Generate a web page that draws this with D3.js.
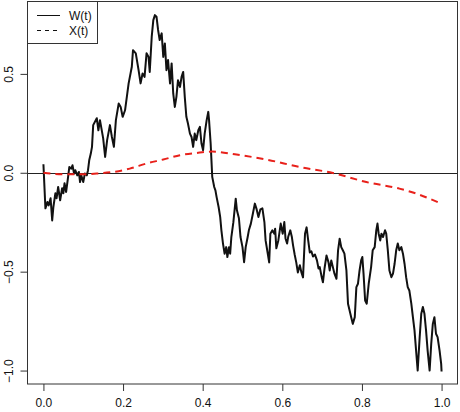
<!DOCTYPE html>
<html>
<head>
<meta charset="utf-8">
<script src="https://cdn.jsdelivr.net/npm/d3@7"></script>
<style>
  body { margin: 0; background: #fff; }
  svg { display: block; font-family: "Liberation Sans", Arial, sans-serif; }
</style>
</head>
<body>
<div id="chart"></div>
<script>
// W(t): brownian path
const tW = [
  0, 0.005, 0.010, 0.013, 0.018, 0.022, 0.025, 0.030, 0.033, 0.037, 0.042, 0.047,
  0.050, 0.053, 0.057, 0.062, 0.065, 0.070, 0.073, 0.077, 0.080, 0.085, 0.089, 0.092,
  0.095, 0.100, 0.104, 0.109, 0.112, 0.115, 0.119, 0.122, 0.125, 0.134, 0.138, 0.142,
  0.150, 0.155, 0.160, 0.167, 0.172, 0.177, 0.182, 0.189, 0.194, 0.199, 0.205, 0.214,
  0.222, 0.225, 0.232, 0.239, 0.244, 0.249, 0.254, 0.259, 0.264, 0.267, 0.272, 0.276,
  0.280, 0.284, 0.288, 0.292, 0.297, 0.301, 0.305, 0.309, 0.313, 0.318, 0.322, 0.326,
  0.330, 0.334, 0.338, 0.343, 0.347, 0.351, 0.355, 0.359, 0.363, 0.368, 0.372, 0.376,
  0.380, 0.384, 0.389, 0.393, 0.397, 0.401, 0.405, 0.410, 0.414, 0.416, 0.420, 0.422,
  0.424, 0.429, 0.432, 0.435, 0.440, 0.444, 0.447, 0.451, 0.455, 0.459, 0.462, 0.466,
  0.469, 0.472, 0.477, 0.483, 0.486, 0.491, 0.495, 0.500, 0.504, 0.508, 0.513, 0.516,
  0.521, 0.526, 0.531, 0.535, 0.540, 0.545, 0.550, 0.555, 0.558, 0.563, 0.567, 0.570,
  0.575, 0.580, 0.582, 0.585, 0.590, 0.596, 0.601, 0.605, 0.608, 0.612, 0.615, 0.620,
  0.624, 0.627, 0.631, 0.635, 0.639, 0.644, 0.648, 0.652, 0.657, 0.661, 0.665, 0.669,
  0.673, 0.677, 0.682, 0.687, 0.691, 0.694, 0.699, 0.702, 0.706, 0.711, 0.716, 0.719,
  0.723, 0.727, 0.731, 0.736, 0.740, 0.744, 0.748, 0.752, 0.756, 0.761, 0.765, 0.769,
  0.773, 0.777, 0.782, 0.786, 0.790, 0.794, 0.798, 0.801, 0.804, 0.808, 0.812, 0.817,
  0.823, 0.827, 0.832, 0.836, 0.839, 0.842, 0.846, 0.849, 0.853, 0.858, 0.861, 0.865,
  0.869, 0.874, 0.878, 0.882, 0.886, 0.890, 0.894, 0.899, 0.903, 0.907, 0.911, 0.915,
  0.919, 0.924, 0.928, 0.932, 0.936, 0.940, 0.945, 0.949, 0.953, 0.957, 0.961, 0.965,
  0.970, 0.974, 0.978, 0.982, 0.986, 0.990, 0.995, 0.999, 1.000
];
const wVals = [
  0.043, -0.180, -0.148, -0.165, -0.129, -0.241, -0.173, -0.104, -0.129, -0.072, -0.139, -0.078,
  -0.104, -0.053, -0.097, -0.021, 0.029, 0.021, 0.038, -0.004, 0.013, -0.013, 0.004, -0.047,
  -0.013, -0.047, -0.004, -0.013, 0.013, 0.063, 0.097, 0.131, 0.241, 0.276, 0.215, 0.266,
  0.175, 0.080, 0.165, 0.241, 0.181, 0.131, 0.266, 0.350, 0.333, 0.283, 0.316, 0.452,
  0.536, 0.620, 0.604, 0.519, 0.452, 0.502, 0.485, 0.604, 0.586, 0.510, 0.688, 0.772,
  0.797, 0.789, 0.722, 0.671, 0.705, 0.586, 0.654, 0.519, 0.570, 0.452, 0.553, 0.401,
  0.333, 0.384, 0.468, 0.434, 0.485, 0.510, 0.384, 0.283, 0.249, 0.198, 0.181, 0.131,
  0.198, 0.165, 0.215, 0.232, 0.148, 0.114, 0.198, 0.266, 0.308, 0.266, 0.148, 0.063,
  -0.021, -0.072, -0.089, -0.123, -0.173, -0.224, -0.291, -0.358, -0.409, -0.376, -0.426, -0.376,
  -0.409, -0.325, -0.251, -0.131, -0.190, -0.230, -0.325, -0.376, -0.452, -0.376, -0.325, -0.291,
  -0.257, -0.207, -0.156, -0.181, -0.224, -0.185, -0.180, -0.249, -0.342, -0.403, -0.453, -0.308,
  -0.291, -0.308, -0.283, -0.382, -0.342, -0.257, -0.308, -0.249, -0.332, -0.358, -0.322, -0.291,
  -0.325, -0.367, -0.413, -0.453, -0.504, -0.468, -0.504, -0.529, -0.308, -0.276, -0.342, -0.403,
  -0.397, -0.423, -0.413, -0.443, -0.484, -0.477, -0.528, -0.554, -0.484, -0.418, -0.453, -0.494,
  -0.443, -0.477, -0.510, -0.536, -0.392, -0.333, -0.376, -0.392, -0.409, -0.494, -0.662, -0.696,
  -0.730, -0.764, -0.730, -0.578, -0.561, -0.494, -0.443, -0.426, -0.510, -0.646, -0.662, -0.561,
  -0.477, -0.392, -0.376, -0.291, -0.257, -0.308, -0.342, -0.308, -0.325, -0.291, -0.308, -0.392,
  -0.494, -0.528, -0.510, -0.460, -0.392, -0.358, -0.392, -0.376, -0.409, -0.460, -0.528, -0.578,
  -0.595, -0.662, -0.730, -0.797, -0.899, -1.000, -0.831, -0.713, -0.679, -0.713, -0.797, -0.899,
  -1.000, -0.865, -0.764, -0.730, -0.814, -0.831, -0.899, -0.966, -1.005
];

// X(t): smooth dashed curve
const tX = [0, 0.050, 0.092, 0.134, 0.175, 0.217, 0.259, 0.301, 0.343, 0.384,
            0.424, 0.485, 0.560, 0.644, 0.727, 0.811, 0.894, 0.936, 0.970, 1.000];
const xVals = [0, -0.008, -0.008, -0.004, 0.004, 0.021, 0.047, 0.067, 0.089, 0.100,
               0.107, 0.092, 0.067, 0.029, -0.001, -0.047, -0.080, -0.105, -0.131, -0.157];

const xTicks = [0, 0.2, 0.4, 0.6, 0.8, 1.0];
const yTicks = [-1.0, -0.5, 0.0, 0.5];
const legendLabels = ["W(t)", "X(t)"];

const width = 460, height = 412;
const box = {left: 27.5, right: 457.5, top: 1.5, bottom: 384};

const x = d3.scaleLinear().domain([-0.04, 1.04]).range([box.left, box.right]);
const y = d3.scaleLinear().domain([-1.068, 0.866]).range([box.bottom, box.top]);

const svg = d3.select("#chart").append("svg")
    .attr("width", width)
    .attr("height", height);

svg.append("rect")
    .attr("width", width).attr("height", height)
    .attr("fill", "#fff");

// zero line
svg.append("line")
    .attr("x1", box.left).attr("x2", box.right)
    .attr("y1", Math.round(y(0)) + 0.5).attr("y2", Math.round(y(0)) + 0.5)
    .attr("stroke", "#222").attr("stroke-width", 1);

const line = d3.line()
    .x(d => x(d[0]))
    .y(d => y(d[1]));

svg.append("path")
    .datum(d3.zip(tW, wVals))
    .attr("fill", "none")
    .attr("stroke", "#111")
    .attr("stroke-width", 2)
    .attr("stroke-linejoin", "round")
    .attr("d", line);

svg.append("path")
    .datum(d3.zip(tX, xVals))
    .attr("fill", "none")
    .attr("stroke", "#e8211b")
    .attr("stroke-width", 2)
    .attr("stroke-dasharray", "7,5")
    .attr("d", line.curve(d3.curveMonotoneX));

// box
svg.append("rect")
    .attr("x", box.left).attr("y", box.top)
    .attr("width", box.right - box.left).attr("height", box.bottom - box.top)
    .attr("fill", "none").attr("stroke", "#333").attr("stroke-width", 1);

// axes
const fmt = d3.format(".1f");
const xAxis = svg.append("g")
    .attr("transform", `translate(0,${box.bottom})`)
    .call(d3.axisBottom(x).tickValues(xTicks).tickSize(7).tickPadding(7).tickFormat(fmt));
xAxis.select(".domain").remove();

const yAxis = svg.append("g")
    .attr("transform", `translate(${box.left},0)`)
    .call(d3.axisLeft(y).tickValues(yTicks).tickSize(7).tickFormat(fmt));
yAxis.select(".domain").remove();
yAxis.selectAll("text")
    .attr("x", null).attr("dy", null)
    .attr("text-anchor", "middle")
    .attr("transform", "translate(-15,0) rotate(-90)");

svg.selectAll(".tick line").attr("stroke", "#333");
svg.selectAll(".tick text")
    .attr("fill", "#111")
    .style("font-size", "12px")
    .style("font-family", "'Liberation Sans', Arial, sans-serif");

// legend
const legend = svg.append("g");
legend.append("rect")
    .attr("x", box.left).attr("y", box.top)
    .attr("width", 70).attr("height", 42)
    .attr("fill", "#fff").attr("stroke", "#333").attr("stroke-width", 1);

const dashes = [null, "4,4"];
legendLabels.forEach((lab, i) => {
  const ly = 15.5 + i * 15;
  legend.append("line")
      .attr("x1", 37).attr("x2", 60)
      .attr("y1", ly).attr("y2", ly)
      .attr("stroke", "#111").attr("stroke-width", 1)
      .attr("stroke-dasharray", dashes[i]);
  legend.append("text")
      .attr("x", 69).attr("y", ly + 4.5)
      .attr("fill", "#111")
      .style("font-size", "12px")
      .text(lab);
});
</script>
</body>
</html>
